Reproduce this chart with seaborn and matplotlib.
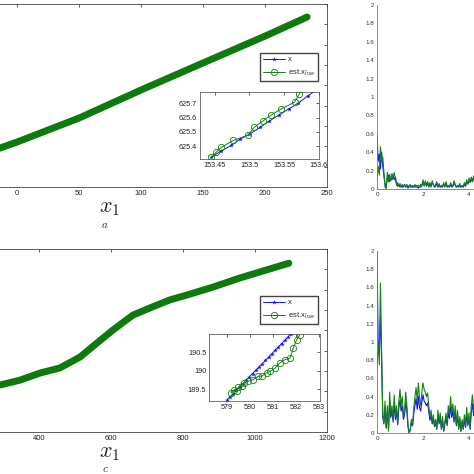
import numpy as np
import matplotlib
matplotlib.use("Agg")
import matplotlib.pyplot as plt
import seaborn as sns

# ---- data ----
# panel a: trajectory x1 -> x2
traj_a_x = [-20, 0, 50, 100, 150, 200, 234]
traj_a_y = [178, 221, 339, 477, 610, 742, 836]

# panel a inset (zoom around x1 = 153.5)
ins_a_true_x = [153.4454, 153.4593, 153.4740, 153.4871, 153.5000, 153.5149,
                153.5288, 153.5426, 153.5565, 153.5704, 153.5843, 153.5982]
ins_a_true_y = [625.321, 625.367, 625.405, 625.451, 625.484, 625.531,
                625.577, 625.619, 625.661, 625.703, 625.754, 625.800]
ins_a_est_x = [153.4454, 153.4524, 153.4593, 153.4768, 153.4986, 153.5065,
               153.5194, 153.5315, 153.5454, 153.5649, 153.5713, 153.5800]
ins_a_est_y = [625.321, 625.358, 625.391, 625.440, 625.479, 625.531,
               625.577, 625.619, 625.661, 625.708, 625.764, 625.820]

# panel c: trajectory
traj_c_x = [280, 292, 347, 403, 458, 514, 561, 606, 661, 708, 764, 811, 883, 958, 1033, 1094]
traj_c_y = [90, 92.5, 102, 116, 126, 147.5, 175, 201, 230, 244, 260, 269.5, 285, 303, 319, 332]

# panel c inset (zoom around x1 = 580)
ins_c_true_x = [578.99, 579.13, 579.27, 579.41, 579.55, 579.69, 579.83, 579.97,
                580.11, 580.25, 580.39, 580.53, 580.67, 580.81, 580.95, 581.09,
                581.23, 581.37, 581.51, 581.65, 581.79, 581.93]
ins_c_true_y = [189.20, 189.29, 189.38, 189.47, 189.56, 189.65, 189.74, 189.83,
                189.92, 190.01, 190.10, 190.19, 190.28, 190.37, 190.46, 190.55,
                190.64, 190.73, 190.82, 190.91, 191.00, 191.09]
ins_c_est_x = [579.17, 579.32, 579.42, 579.49, 579.64, 579.75, 579.90, 580.14,
               580.36, 580.51, 580.73, 580.87, 581.09, 581.30, 581.52, 581.74,
               581.88, 582.03, 582.17]
ins_c_est_y = [189.40, 189.49, 189.44, 189.56, 189.59, 189.67, 189.71, 189.76,
               189.85, 189.85, 189.94, 189.98, 190.07, 190.21, 190.30, 190.34,
               190.61, 190.84, 190.97]

# right panels: error signals sampled every 0.05 s
t_err = np.round(np.arange(0, 4.31, 0.05), 2)
err_b_true = [0.60, 0.30, 0.38, 0.22, 0.40, 0.25, 0.15, 0.05, 0.02, 0.12, 0.15, 0.08,
              0.12, 0.10, 0.14, 0.10, 0.13, 0.06, 0.03, 0.05, 0.02, 0.04, 0.02, 0.03,
              0.05, 0.02, 0.03, 0.01, 0.04, 0.02, 0.03, 0.02, 0.03, 0.02, 0.04, 0.02,
              0.01, 0.03, 0.02, 0.04, 0.08, 0.04, 0.07, 0.03, 0.07, 0.02, 0.06, 0.03,
              0.07, 0.05, 0.02, 0.03, 0.06, 0.02, 0.04, 0.02, 0.03, 0.02, 0.05, 0.03,
              0.06, 0.02, 0.03, 0.02, 0.05, 0.02, 0.03, 0.07, 0.04, 0.02, 0.03, 0.02,
              0.04, 0.02, 0.03, 0.02, 0.05, 0.03, 0.08, 0.06, 0.09, 0.07, 0.10, 0.08,
              0.11, 0.09, 0.12]
err_b_fuse = [0.10, 0.25, 0.15, 0.46, 0.30, 0.35, 0.18, 0.02, 0.00, 0.18, 0.08, 0.16,
              0.09, 0.17, 0.12, 0.18, 0.10, 0.04, 0.07, 0.03, 0.06, 0.02, 0.05, 0.02,
              0.04, 0.03, 0.05, 0.02, 0.03, 0.05, 0.02, 0.04, 0.02, 0.05, 0.02, 0.03,
              0.04, 0.02, 0.05, 0.03, 0.10, 0.03, 0.09, 0.04, 0.08, 0.03, 0.07, 0.02,
              0.09, 0.04, 0.03, 0.05, 0.08, 0.03, 0.06, 0.02, 0.04, 0.03, 0.07, 0.02,
              0.08, 0.03, 0.04, 0.02, 0.07, 0.03, 0.04, 0.09, 0.05, 0.02, 0.04, 0.03,
              0.06, 0.02, 0.04, 0.03, 0.07, 0.04, 0.10, 0.05, 0.12, 0.08, 0.13, 0.09,
              0.14, 0.10, 0.15]
err_d_true = [2.00, 1.00, 0.90, 1.30, 0.80, 0.18, 0.10, 0.28, 0.06, 0.24, 0.04, 0.35,
              0.17, 0.25, 0.12, 0.33, 0.15, 0.24, 0.09, 0.28, 0.36, 0.24, 0.30, 0.15,
              0.20, 0.34, 0.24, 0.06, 0.00, 0.04, 0.12, 0.08, 0.22, 0.30, 0.38, 0.26,
              0.40, 0.28, 0.24, 0.34, 0.42, 0.35, 0.33, 0.30, 0.33, 0.24, 0.14, 0.20,
              0.10, 0.16, 0.07, 0.12, 0.04, 0.20, 0.10, 0.17, 0.04, 0.14, 0.02, 0.10,
              0.17, 0.08, 0.23, 0.16, 0.30, 0.17, 0.25, 0.12, 0.23, 0.08, 0.19, 0.04,
              0.14, 0.02, 0.12, 0.04, 0.15, 0.06, 0.21, 0.08, 0.17, 0.04, 0.23, 0.32,
              0.19, 0.27, 0.15]
err_d_fuse = [0.70, 1.00, 0.75, 1.65, 0.90, 0.20, 0.12, 0.35, 0.05, 0.30, 0.02, 0.45,
              0.20, 0.30, 0.15, 0.42, 0.18, 0.30, 0.10, 0.35, 0.48, 0.30, 0.40, 0.18,
              0.25, 0.45, 0.30, 0.08, 0.00, 0.05, 0.15, 0.10, 0.28, 0.40, 0.50, 0.35,
              0.55, 0.38, 0.30, 0.45, 0.55, 0.48, 0.45, 0.40, 0.44, 0.30, 0.18, 0.25,
              0.12, 0.20, 0.08, 0.15, 0.05, 0.25, 0.12, 0.22, 0.05, 0.18, 0.02, 0.12,
              0.22, 0.10, 0.30, 0.20, 0.40, 0.22, 0.32, 0.15, 0.30, 0.10, 0.25, 0.05,
              0.18, 0.02, 0.15, 0.05, 0.20, 0.08, 0.28, 0.10, 0.22, 0.05, 0.30, 0.42,
              0.25, 0.35, 0.20]

BLUE = "#1010ff"
GREEN = "#128212"
TRAJ = "#0d7a0d"

sns.set_style("white")
plt.rcParams["font.family"] = ["Liberation Sans", "DejaVu Sans"]
plt.rcParams["mathtext.fontset"] = "cm"

W = H = 474
fig = plt.figure(figsize=(4.74, 4.74), dpi=100)


def px_axes(left, top, right, bottom):
    return fig.add_axes([left / W, 1 - bottom / H, (right - left) / W, (bottom - top) / H])


def matlab_box(ax, size=5.5, lw=0.6):
    for s in ax.spines.values():
        s.set_color("#444444")
        s.set_linewidth(lw)
    ax.tick_params(direction="in", top=True, right=True, length=2.5, width=0.5,
                   labelsize=size, pad=2, colors="#222222")


# ---- panel a ----
ax_a = px_axes(-45, 4, 327, 187)
sns.lineplot(x=traj_a_x, y=traj_a_y, ax=ax_a, color=TRAJ, linewidth=5,
             solid_capstyle="round")
ax_a.set_xlim(-50, 250)
ax_a.set_ylim(0, 900)
ax_a.set_xticks([0, 50, 100, 150, 200, 250])
ax_a.set_yticks(range(0, 901, 100))
matlab_box(ax_a)
ax_a.tick_params(labelleft=False)

ins_a = px_axes(200, 92, 319, 159)
sns.lineplot(x=ins_a_true_x, y=ins_a_true_y, ax=ins_a, color=BLUE, linewidth=0.7,
             marker="*", markersize=3.5, markeredgewidth=0, label="x", sort=False)
sns.lineplot(x=ins_a_est_x, y=ins_a_est_y, ax=ins_a, color=GREEN, linewidth=0.7,
             marker="o", markersize=4.5, markerfacecolor="none", markeredgecolor=GREEN,
             markeredgewidth=0.6, label=r"est.x$_{\rm fuse}$", sort=False)
ins_a.set_xlim(153.429, 153.597)
ins_a.set_ylim(625.31, 625.78)
ins_a.set_xticks([153.45, 153.5, 153.55, 153.6])
ins_a.set_xticklabels(["153.45", "153.5", "153.55", "153.6"])
ins_a.set_yticks([625.4, 625.5, 625.6, 625.7])
matlab_box(ins_a, size=5.2, lw=0.5)
handles, labels = ins_a.get_legend_handles_labels()
ins_a.get_legend().remove()
fig.legend(handles, labels, loc="upper right", bbox_to_anchor=(318 / W, 1 - 53 / H),
           bbox_transform=fig.transFigure, borderaxespad=0, fontsize=5.5,
           frameon=True, fancybox=False, edgecolor="#444444", framealpha=1,
           handlelength=2.8, labelspacing=0.5, borderpad=0.4, handletextpad=0.4)

# ---- panel c ----
ax_c = px_axes(-33, 249, 327, 432)
sns.lineplot(x=traj_c_x, y=traj_c_y, ax=ax_c, color=TRAJ, linewidth=5,
             solid_capstyle="round")
ax_c.set_xlim(200, 1200)
ax_c.set_ylim(0, 360)
ax_c.set_xticks([400, 600, 800, 1000, 1200])
ax_c.set_yticks(range(0, 361, 40))
matlab_box(ax_c)
ax_c.tick_params(labelleft=False)

ins_c = px_axes(209, 334, 320, 401)
sns.lineplot(x=ins_c_true_x, y=ins_c_true_y, ax=ins_c, color=BLUE, linewidth=0.7,
             marker="*", markersize=3.5, markeredgewidth=0, label="x", sort=False)
sns.lineplot(x=ins_c_est_x, y=ins_c_est_y, ax=ins_c, color=GREEN, linewidth=0.7,
             marker="o", markersize=4.5, markerfacecolor="none", markeredgecolor=GREEN,
             markeredgewidth=0.6, label=r"est.x$_{\rm fuse}$", sort=False)
ins_c.set_xlim(578.22, 583.04)
ins_c.set_ylim(189.18, 190.99)
ins_c.set_xticks([579, 580, 581, 582, 583])
ins_c.set_yticks([189.5, 190, 190.5])
ins_c.set_yticklabels(["189.5", "190", "190.5"])
matlab_box(ins_c, size=5.2, lw=0.5)
handles, labels = ins_c.get_legend_handles_labels()
ins_c.get_legend().remove()
fig.legend(handles, labels, loc="upper right", bbox_to_anchor=(318 / W, 1 - 296 / H),
           bbox_transform=fig.transFigure, borderaxespad=0, fontsize=5.5,
           frameon=True, fancybox=False, edgecolor="#444444", framealpha=1,
           handlelength=2.8, labelspacing=0.5, borderpad=0.4, handletextpad=0.4)

# ---- right panels (errors) ----
for top, bottom, e_true, e_fuse in [(5, 189, err_b_true, err_b_fuse),
                                    (251, 433, err_d_true, err_d_fuse)]:
    ax = px_axes(377, top, 492, bottom)
    sns.lineplot(x=t_err, y=e_true, ax=ax, color=BLUE, linewidth=0.8)
    sns.lineplot(x=t_err, y=e_fuse, ax=ax, color=GREEN, linewidth=0.8)
    ax.set_xlim(0, 5)
    ax.set_ylim(0, 2)
    ax.set_xticks([0, 2, 4])
    ax.set_yticks(np.round(np.arange(0, 2.01, 0.2), 1))
    ax.set_yticklabels(["0", "0.2", "0.4", "0.6", "0.8", "1", "1.2", "1.4", "1.6", "1.8", "2"])
    for s in ["top", "right"]:
        ax.spines[s].set_visible(False)
    for s in ["left", "bottom"]:
        ax.spines[s].set_color("#777777")
        ax.spines[s].set_linewidth(0.6)
    ax.tick_params(direction="in", length=2, width=0.5, labelsize=4.5, pad=2,
                   colors="#333333")

# ---- axis labels / panel letters ----
fig.text(110 / W, 1 - 207 / H, r"$x_1$", fontsize=16, ha="center", va="center")
fig.text(105 / W, 1 - 225 / H, r"$a$", fontsize=8, ha="center", va="center")
fig.text(110 / W, 1 - 453 / H, r"$x_1$", fontsize=16, ha="center", va="center")
fig.text(105 / W, 1 - 469 / H, r"$c$", fontsize=8, ha="center", va="center")

fig.savefig("out.png", dpi=100)
